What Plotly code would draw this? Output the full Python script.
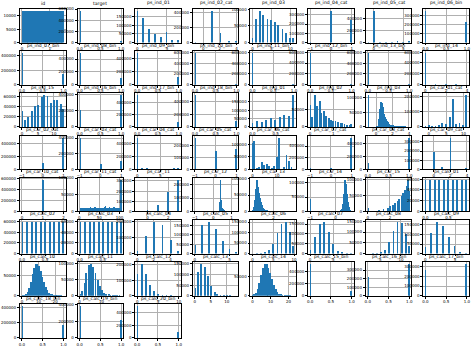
import plotly.graph_objects as go

FIG_W, FIG_H = 474, 348
BAR_COLOR = '#1f77b4'
NBINS = 50

# ---------------- data: discrete columns (value, count) ----------------
bin_vals = [0, 1]
target_counts = [573518, 21694]
ps_ind_01_vals = [0, 1, 2, 3, 4, 5, 6, 7]
ps_ind_01_counts = [187594, 143984, 82468, 51193, 35237, 61831, 17059, 15846]
ps_ind_02_cat_vals = [-1, 1, 2, 3, 4]
ps_ind_02_cat_counts = [216, 431859, 123573, 28186, 11378]
ps_ind_03_vals = [0, 1, 2, 3, 4, 5, 6, 7, 8, 9, 10, 11]
ps_ind_03_counts = [14556, 70212, 96853, 84963, 70042, 67864, 61482, 54725, 42314, 30185, 15240, 12776]
ps_ind_04_cat_vals = [-1, 0, 1]
ps_ind_04_cat_counts = [83, 346965, 248164]
ps_ind_05_cat_vals = [-1, 0, 1, 2, 3, 4, 5, 6]
ps_ind_05_cat_counts = [5809, 528009, 8322, 4184, 8233, 18344, 1649, 20662]
ps_ind_06_bin_counts = [360852, 234360]
ps_ind_07_bin_counts = [442223, 152989]
ps_ind_08_bin_counts = [497644, 97568]
ps_ind_09_bin_counts = [484917, 110295]
ps_ind_10_bin_counts = [594990, 222]
ps_ind_11_bin_counts = [594205, 1007]
ps_ind_12_bin_counts = [589594, 5618]
ps_ind_13_bin_counts = [594648, 564]
ps_ind_14_vals = [0, 1, 2, 3, 4]
ps_ind_14_counts = [588832, 5230, 985, 147, 18]
ps_ind_15_vals = [0, 1, 2, 3, 4, 5, 6, 7, 8, 9, 10, 11, 12, 13]
ps_ind_15_counts = [31880, 13210, 19950, 31720, 41650, 42980, 59870, 64120, 60350, 46840, 53980, 52710, 45110, 34820]
ps_ind_16_bin_counts = [201882, 393330]
ps_ind_17_bin_counts = [523143, 72069]
ps_ind_18_bin_counts = [503879, 91333]
ps_reg_01_vals = [0.0, 0.1, 0.2, 0.3, 0.4, 0.5, 0.6, 0.7, 0.8, 0.9]
ps_reg_01_counts = [20000, 36000, 28000, 40000, 52000, 38000, 58000, 70000, 62000, 190000]
ps_reg_02_vals = [0.0, 0.1, 0.2, 0.3, 0.4, 0.5, 0.6, 0.7, 0.8, 0.9, 1.0, 1.1, 1.2, 1.3, 1.4, 1.5, 1.6, 1.7, 1.8]
ps_reg_02_counts = [63000, 28000, 92000, 58000, 75000, 40000, 44000, 30000, 25000, 20000, 17000, 15000, 12000, 9000, 11000, 7000, 6000, 4000, 8000]
ps_car_01_cat_vals = [-1, 0, 1, 2, 3, 4, 5, 6, 7, 8, 9, 10, 11]
ps_car_01_cat_counts = [107, 5904, 1367, 2144, 6658, 26174, 18142, 62393, 179247, 15093, 20323, 5135, 207573]
ps_car_02_cat_vals = [-1, 0, 1]
ps_car_02_cat_counts = [5, 101217, 493990]
ps_car_03_cat_vals = [-1, 0, 1]
ps_car_03_cat_counts = [411231, 73272, 110709]
ps_car_04_cat_vals = [0, 1, 2, 3, 4, 5, 6, 7, 8, 9]
ps_car_04_cat_counts = [496581, 32115, 23770, 640, 230, 545, 1560, 230, 13272, 26269]
ps_car_05_cat_vals = [-1, 0, 1]
ps_car_05_cat_counts = [266551, 155994, 172667]
ps_car_06_cat_vals = [0, 1, 2, 3, 4, 5, 6, 7, 8, 9, 10, 11, 12, 13, 14, 15, 16, 17]
ps_car_06_cat_counts = [110420, 118386, 4193, 11206, 31136, 18006, 22578, 14467, 8163, 15826, 50000, 131527, 1370, 10436, 59253, 36011, 12184, 1456]
ps_car_07_cat_vals = [-1, 0, 1]
ps_car_07_cat_counts = [11489, 30575, 553148]
ps_car_08_cat_counts = [99948, 495264]
ps_car_09_cat_vals = [-1, 0, 1, 2, 3, 4]
ps_car_09_cat_counts = [569, 194518, 29080, 353482, 2089, 15474]
ps_car_10_cat_vals = [0, 1, 2]
ps_car_10_cat_counts = [4916, 590179, 117]
ps_car_11_vals = [-1, 0, 1, 2, 3]
ps_car_11_counts = [5, 20655, 62785, 195703, 316064]
ps_car_15_vals = [0.0, 1.0, 1.414214, 1.732051, 2.0, 2.236068, 2.44949, 2.645751, 2.828427, 3.0,
                  3.162278, 3.316625, 3.464102, 3.605551, 3.741657]
ps_car_15_counts = [11500, 5200, 8300, 12600, 16700, 21300, 26500, 33200, 40100, 48700, 57800, 67700, 79400, 100500, 65700]
tenth_vals = [0.0, 0.1, 0.2, 0.3, 0.4, 0.5, 0.6, 0.7, 0.8, 0.9]
ps_calc_01_counts = [59523, 59687, 59418, 59552, 59602, 59489, 59731, 59372, 59445, 59393]
ps_calc_02_counts = [59611, 59402, 59580, 59497, 59366, 59702, 59455, 59538, 59620, 59441]
ps_calc_03_counts = [59380, 59544, 59671, 59420, 59593, 59508, 59462, 59715, 59387, 59532]
ps_calc_04_vals = [0, 1, 2, 3, 4, 5]
ps_calc_04_counts = [14800, 109600, 197400, 176200, 81300, 15900]
ps_calc_05_vals = [0, 1, 2, 3, 4, 5, 6]
ps_calc_05_counts = [44800, 151300, 170600, 128700, 69200, 24900, 5700]
ps_calc_06_vals = [0, 1, 2, 3, 4, 5, 6, 7, 8, 9, 10]
ps_calc_06_counts = [5, 60, 650, 3900, 15100, 46500, 96800, 141600, 152400, 101300, 36900]
ps_calc_07_vals = [0, 1, 2, 3, 4, 5, 6, 7, 8, 9]
ps_calc_07_counts = [18900, 82400, 152300, 162800, 111700, 47600, 15200, 3600, 650, 50]
ps_calc_08_vals = [2, 3, 4, 5, 6, 7, 8, 9, 10, 11, 12]
ps_calc_08_counts = [10, 90, 800, 4500, 17700, 52000, 103000, 148500, 142800, 90200, 35600]
ps_calc_09_vals = [0, 1, 2, 3, 4, 5, 6, 7]
ps_calc_09_counts = [35000, 107000, 168000, 146000, 88000, 38000, 11000, 2200]
ps_calc_10_vals = [0, 1, 2, 3, 4, 5, 6, 7, 8, 9, 10, 11, 12, 13, 14, 15, 16, 17, 18, 19, 20, 21, 22, 23, 24, 25]
ps_calc_10_counts = [100, 600, 2500, 8000, 19000, 34000, 52000, 68000, 77000, 78000, 71000, 59000, 45000,
                     32000, 21000, 13000, 7500, 4000, 2000, 900, 400, 150, 60, 20, 5, 1]
ps_calc_11_vals = [0, 1, 2, 3, 4, 5, 6, 7, 8, 9, 10, 11, 12, 13, 14, 15, 16, 17, 18, 19]
ps_calc_11_counts = [3500, 15000, 40000, 70000, 95000, 100000, 90000, 70000, 48000, 30000, 17000, 9000,
                     4500, 2000, 900, 350, 130, 50, 15, 3]
ps_calc_12_vals = [0, 1, 2, 3, 4, 5, 6, 7, 8, 9, 10]
ps_calc_12_counts = [140000, 205000, 140000, 70000, 27000, 8500, 2300, 500, 100, 20, 5]
ps_calc_13_vals = [0, 1, 2, 3, 4, 5, 6, 7, 8, 9, 10, 11, 12, 13]
ps_calc_13_counts = [38000, 110000, 150000, 135000, 90000, 45000, 18000, 6000, 1700, 400, 80, 20, 4, 1]
ps_calc_14_vals = [0, 1, 2, 3, 4, 5, 6, 7, 8, 9, 10, 11, 12, 13, 14, 15, 16, 17, 18, 19, 20, 21, 22, 23]
ps_calc_14_counts = [300, 1800, 6500, 17000, 33000, 52000, 70000, 80000, 82000, 72000, 58000, 42000,
                     27000, 16000, 9000, 4500, 2000, 900, 350, 130, 40, 12, 4, 1]
ps_calc_15_bin_counts = [522342, 72870]
ps_calc_16_bin_counts = [221514, 373698]
ps_calc_17_bin_counts = [265356, 329856]
ps_calc_18_bin_counts = [424278, 170934]
ps_calc_19_bin_counts = [387469, 207743]
ps_calc_20_bin_counts = [503955, 91257]

# ---------------- data: continuous columns (range + 50 bin counts) ----------------
id_range = (7, 1488027)
id_bins = [11890, 11921, 11898, 11915, 11887, 11930, 11902, 11895, 11910, 11884,
           11926, 11899, 11906, 11893, 11918, 11901, 11888, 11923, 11907, 11896,
           11912, 11885, 11920, 11903, 11897, 11916, 11891, 11909, 11924, 11900,
           11889, 11913, 11905, 11894, 11919, 11886, 11911, 11904, 11898, 11917,
           11892, 11925, 11901, 11908, 11890, 11914, 11899, 11906, 11921, 11895]
ps_reg_03_range = (-1, 4.037945)
ps_reg_03_bins = [107772, 0, 0, 0, 0, 0, 0, 0, 0, 0,
                  60, 900, 6500, 27000, 58000, 84000, 79000, 67000, 55000, 44000,
                  34000, 26000, 19500, 14500, 10500, 7800, 5600, 4000, 2900, 2100,
                  1500, 1100, 800, 600, 420, 300, 220, 160, 120, 90,
                  65, 50, 35, 25, 18, 12, 8, 5, 3, 2]
ps_car_11_cat_range = (1, 104)
ps_car_11_cat_bins = [9800, 10400, 8900, 11600, 9200, 12300, 10100, 8700, 9900, 11200,
                      10800, 9500, 12600, 8400, 10200, 9700, 11000, 13400, 10600, 9300,
                      11900, 10000, 9100, 12100, 10700, 8800, 11300, 9600, 10900, 12800,
                      15600, 10300, 9400, 11700, 10500, 13900, 9000, 10800, 11500, 9700,
                      12400, 10100, 8600, 11100, 9900, 12000, 10400, 9200, 10700, 96000]
ps_car_12_range = (-1, 1.264911)
ps_car_12_bins = [1, 0, 0, 0, 0, 0, 0, 0, 0, 0,
                  0, 0, 0, 0, 0, 0, 0, 0, 0, 0,
                  0, 0, 0, 0, 20, 30, 100, 300, 200, 70000,
                  240000, 90000, 30000, 18000, 9000, 5000, 3500, 2500, 1500, 1200,
                  900, 700, 500, 400, 300, 200, 150, 100, 80, 60]
ps_car_13_range = (0.250619, 3.720626)
ps_car_13_bins = [800, 3200, 14000, 35000, 70000, 98000, 92000, 76000, 58000, 42000,
                  30000, 21000, 15000, 10500, 7500, 5200, 3700, 2700, 1900, 1400,
                  1000, 750, 550, 400, 300, 220, 160, 120, 90, 70,
                  55, 40, 30, 25, 20, 15, 12, 10, 8, 6,
                  5, 4, 3, 3, 2, 2, 1, 1, 1, 1]
ps_car_14_range = (-1, 0.636396)
ps_car_14_bins = [42620, 0, 0, 0, 0, 0, 0, 0, 0, 0,
                  0, 0, 0, 0, 0, 0, 0, 0, 0, 0,
                  0, 0, 0, 0, 0, 0, 0, 0, 0, 0,
                  0, 0, 0, 30, 80, 250, 700, 2500, 8500, 26000,
                  62000, 100000, 112000, 95000, 62000, 34000, 15000, 6500, 2500, 1200]

columns = [
    ('id', 'binned', (id_range, id_bins)),
    ('target', 'disc', (bin_vals, target_counts)),
    ('ps_ind_01', 'disc', (ps_ind_01_vals, ps_ind_01_counts)),
    ('ps_ind_02_cat', 'disc', (ps_ind_02_cat_vals, ps_ind_02_cat_counts)),
    ('ps_ind_03', 'disc', (ps_ind_03_vals, ps_ind_03_counts)),
    ('ps_ind_04_cat', 'disc', (ps_ind_04_cat_vals, ps_ind_04_cat_counts)),
    ('ps_ind_05_cat', 'disc', (ps_ind_05_cat_vals, ps_ind_05_cat_counts)),
    ('ps_ind_06_bin', 'disc', (bin_vals, ps_ind_06_bin_counts)),
    ('ps_ind_07_bin', 'disc', (bin_vals, ps_ind_07_bin_counts)),
    ('ps_ind_08_bin', 'disc', (bin_vals, ps_ind_08_bin_counts)),
    ('ps_ind_09_bin', 'disc', (bin_vals, ps_ind_09_bin_counts)),
    ('ps_ind_10_bin', 'disc', (bin_vals, ps_ind_10_bin_counts)),
    ('ps_ind_11_bin', 'disc', (bin_vals, ps_ind_11_bin_counts)),
    ('ps_ind_12_bin', 'disc', (bin_vals, ps_ind_12_bin_counts)),
    ('ps_ind_13_bin', 'disc', (bin_vals, ps_ind_13_bin_counts)),
    ('ps_ind_14', 'disc', (ps_ind_14_vals, ps_ind_14_counts)),
    ('ps_ind_15', 'disc', (ps_ind_15_vals, ps_ind_15_counts)),
    ('ps_ind_16_bin', 'disc', (bin_vals, ps_ind_16_bin_counts)),
    ('ps_ind_17_bin', 'disc', (bin_vals, ps_ind_17_bin_counts)),
    ('ps_ind_18_bin', 'disc', (bin_vals, ps_ind_18_bin_counts)),
    ('ps_reg_01', 'disc', (ps_reg_01_vals, ps_reg_01_counts)),
    ('ps_reg_02', 'disc', (ps_reg_02_vals, ps_reg_02_counts)),
    ('ps_reg_03', 'binned', (ps_reg_03_range, ps_reg_03_bins)),
    ('ps_car_01_cat', 'disc', (ps_car_01_cat_vals, ps_car_01_cat_counts)),
    ('ps_car_02_cat', 'disc', (ps_car_02_cat_vals, ps_car_02_cat_counts)),
    ('ps_car_03_cat', 'disc', (ps_car_03_cat_vals, ps_car_03_cat_counts)),
    ('ps_car_04_cat', 'disc', (ps_car_04_cat_vals, ps_car_04_cat_counts)),
    ('ps_car_05_cat', 'disc', (ps_car_05_cat_vals, ps_car_05_cat_counts)),
    ('ps_car_06_cat', 'disc', (ps_car_06_cat_vals, ps_car_06_cat_counts)),
    ('ps_car_07_cat', 'disc', (ps_car_07_cat_vals, ps_car_07_cat_counts)),
    ('ps_car_08_cat', 'disc', (bin_vals, ps_car_08_cat_counts)),
    ('ps_car_09_cat', 'disc', (ps_car_09_cat_vals, ps_car_09_cat_counts)),
    ('ps_car_10_cat', 'disc', (ps_car_10_cat_vals, ps_car_10_cat_counts)),
    ('ps_car_11_cat', 'binned', (ps_car_11_cat_range, ps_car_11_cat_bins)),
    ('ps_car_11', 'disc', (ps_car_11_vals, ps_car_11_counts)),
    ('ps_car_12', 'binned', (ps_car_12_range, ps_car_12_bins)),
    ('ps_car_13', 'binned', (ps_car_13_range, ps_car_13_bins)),
    ('ps_car_14', 'binned', (ps_car_14_range, ps_car_14_bins)),
    ('ps_car_15', 'disc', (ps_car_15_vals, ps_car_15_counts)),
    ('ps_calc_01', 'disc', (tenth_vals, ps_calc_01_counts)),
    ('ps_calc_02', 'disc', (tenth_vals, ps_calc_02_counts)),
    ('ps_calc_03', 'disc', (tenth_vals, ps_calc_03_counts)),
    ('ps_calc_04', 'disc', (ps_calc_04_vals, ps_calc_04_counts)),
    ('ps_calc_05', 'disc', (ps_calc_05_vals, ps_calc_05_counts)),
    ('ps_calc_06', 'disc', (ps_calc_06_vals, ps_calc_06_counts)),
    ('ps_calc_07', 'disc', (ps_calc_07_vals, ps_calc_07_counts)),
    ('ps_calc_08', 'disc', (ps_calc_08_vals, ps_calc_08_counts)),
    ('ps_calc_09', 'disc', (ps_calc_09_vals, ps_calc_09_counts)),
    ('ps_calc_10', 'disc', (ps_calc_10_vals, ps_calc_10_counts)),
    ('ps_calc_11', 'disc', (ps_calc_11_vals, ps_calc_11_counts)),
    ('ps_calc_12', 'disc', (ps_calc_12_vals, ps_calc_12_counts)),
    ('ps_calc_13', 'disc', (ps_calc_13_vals, ps_calc_13_counts)),
    ('ps_calc_14', 'disc', (ps_calc_14_vals, ps_calc_14_counts)),
    ('ps_calc_15_bin', 'disc', (bin_vals, ps_calc_15_bin_counts)),
    ('ps_calc_16_bin', 'disc', (bin_vals, ps_calc_16_bin_counts)),
    ('ps_calc_17_bin', 'disc', (bin_vals, ps_calc_17_bin_counts)),
    ('ps_calc_18_bin', 'disc', (bin_vals, ps_calc_18_bin_counts)),
    ('ps_calc_19_bin', 'disc', (bin_vals, ps_calc_19_bin_counts)),
    ('ps_calc_20_bin', 'disc', (bin_vals, ps_calc_20_bin_counts)),
]

# ---------------- layout geometry (pixels) ----------------
LEFT0, COL_PITCH, AX_W = 19, 58, 46
TOP0, ROW_PITCH, AX_H = 7, 42.7, 34
FONT = 'DejaVu Sans'
TICK_SIZE = 4
TITLE_SIZE = 4.6

fig = go.Figure()
layout = dict(width=FIG_W, height=FIG_H, margin=dict(l=0, r=0, t=0, b=0),
              paper_bgcolor='white', plot_bgcolor='white', showlegend=False,
              font=dict(family=FONT, size=TICK_SIZE, color='black'), bargap=0, annotations=[])

for i, (name, kind, payload) in enumerate(columns):
    r, c = divmod(i, 8)
    if kind == 'disc':
        vals, counts = payload
        lo, hi = min(vals), max(vals)
        w = (hi - lo) / NBINS
        bins = [0] * NBINS
        for v, n in zip(vals, counts):
            k = min(int((v - lo) / w + 1e-9), NBINS - 1)
            bins[k] += n
    else:
        (lo, hi), bins = payload
        w = (hi - lo) / NBINS
    xs = [lo + (k + 0.5) * w for k in range(NBINS) if bins[k] > 0]
    ys = [bins[k] for k in range(NBINS) if bins[k] > 0]
    n = i + 1
    sfx = '' if n == 1 else str(n)
    fig.add_trace(go.Bar(x=xs, y=ys, width=[w] * len(xs), marker_color=BAR_COLOR,
                         marker_line_width=0, xaxis='x' + sfx, yaxis='y' + sfx,
                         hoverinfo='skip'))
    L = LEFT0 + COL_PITCH * c
    T = TOP0 + ROW_PITCH * r
    span = hi - lo
    ymax = max(bins) * 1.05
    axcommon = dict(showgrid=True, gridcolor='#b0b0b0', gridwidth=0.6, showline=True,
                    linecolor='black', linewidth=0.8, mirror=True, ticks='outside',
                    ticklen=2, tickwidth=0.6, tickcolor='black', zeroline=False,
                    layer='above traces',
                    tickfont=dict(size=TICK_SIZE, family=FONT, color='black'),
                    exponentformat='none', separatethousands=False)
    xa = dict(axcommon, domain=[L / FIG_W, (L + AX_W) / FIG_W],
              range=[lo - 0.05 * span, hi + 0.05 * span], nticks=3,
              anchor='y' + sfx)
    if span <= 1.0:
        xa['tickformat'] = '.1f'
    if name == 'id':
        xa['tickvals'] = [0, 1000000]
        xa['ticktext'] = ['0', '1']
    ya = dict(axcommon, domain=[1 - (T + AX_H) / FIG_H, 1 - T / FIG_H],
              range=[0, ymax], nticks=4, anchor='x' + sfx, tickformat='d')
    layout['xaxis' + sfx] = xa
    layout['yaxis' + sfx] = ya
    layout['annotations'].append(dict(
        text=name, x=(L + AX_W / 2) / FIG_W, y=1 - (T - 0.5) / FIG_H,
        xref='paper', yref='paper', xanchor='center', yanchor='bottom',
        showarrow=False, font=dict(size=TITLE_SIZE, family=FONT, color='black')))

fig.update_layout(**layout)
fig.write_html('out.html')
